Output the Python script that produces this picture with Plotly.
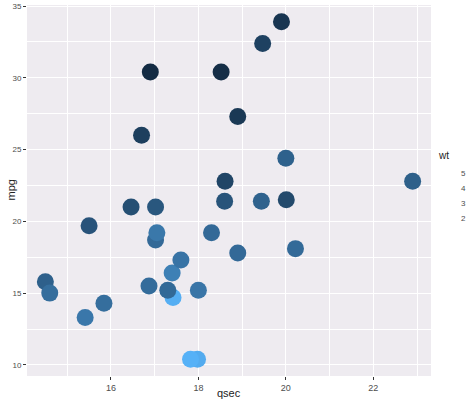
import plotly.graph_objects as go

# mtcars: quarter-mile time, miles per gallon, weight
qsec = [16.46, 17.02, 18.61, 19.44, 17.02, 20.22, 15.84, 20.00, 22.90, 18.30,
        18.90, 17.40, 17.60, 18.00, 17.98, 17.82, 17.42, 19.47, 18.52, 19.90,
        20.01, 16.87, 17.30, 15.41, 17.05, 18.90, 16.70, 16.90, 14.50, 15.50,
        14.60, 18.60]
mpg = [21.0, 21.0, 22.8, 21.4, 18.7, 18.1, 14.3, 24.4, 22.8, 19.2,
       17.8, 16.4, 17.3, 15.2, 10.4, 10.4, 14.7, 32.4, 30.4, 33.9,
       21.5, 15.5, 15.2, 13.3, 19.2, 27.3, 26.0, 30.4, 15.8, 19.7,
       15.0, 21.4]
wt = [2.620, 2.875, 2.320, 3.215, 3.440, 3.460, 3.570, 3.190, 3.150, 3.440,
      3.440, 4.070, 3.730, 3.780, 5.250, 5.424, 5.345, 2.200, 1.615, 1.835,
      2.465, 3.520, 3.435, 3.840, 3.845, 1.935, 2.140, 1.513, 3.170, 2.770,
      3.570, 2.780]

x_ticks = [16, 18, 20, 22]
y_ticks = [10, 15, 20, 25, 30, 35]
legend_vals = [5, 4, 3, 2]

grey = "#4D4D4D"
panel_bg = "#EEEBF0"

fig = go.Figure()
fig.add_trace(go.Scatter(
    x=qsec, y=mpg, mode="markers",
    marker=dict(size=17, color=wt,
                colorscale=[[0, "#132B43"], [0.5, "#336A98"], [1, "#56B1F7"]],
                showscale=False, line=dict(width=0)),
    hoverinfo="x+y",
))

fig.update_xaxes(range=[14.08, 23.32], tickvals=x_ticks, showline=False,
                 zeroline=False, gridcolor="white", gridwidth=1,
                 automargin=False,
                 minor=dict(dtick=1, tick0=15, gridcolor="white",
                            gridwidth=0.5, showgrid=True),
                 ticks="outside", ticklen=3, tickcolor="#333333",
                 tickfont=dict(size=9, color=grey))
fig.update_yaxes(range=[9.225, 35.075], tickvals=y_ticks, showline=False,
                 zeroline=False, gridcolor="white", gridwidth=1,
                 automargin=False,
                 minor=dict(dtick=2.5, tick0=10, gridcolor="white",
                            gridwidth=0.5, showgrid=True),
                 ticks="outside", ticklen=3, tickcolor="#333333",
                 tickfont=dict(size=8, color=grey))

# axis titles
fig.add_annotation(text="qsec", x=0.5, y=-0.046, xref="paper", yref="paper",
                   showarrow=False, font=dict(size=11, color="#222222"),
                   xanchor="center", yanchor="middle")
fig.add_annotation(text="mpg", x=-0.042, y=0.5, xref="paper", yref="paper",
                   showarrow=False, textangle=-90,
                   xanchor="center", yanchor="middle",
                   font=dict(size=11, color="#222222"))

# legend text (colour bar not drawn in the reference)
fig.add_annotation(text="wt", x=1.012, y=0.593, xref="paper", yref="paper",
                   showarrow=False, xanchor="left", yanchor="middle",
                   font=dict(size=10, color="#222222"))
for i, v in enumerate(legend_vals):
    fig.add_annotation(text=str(v), x=1.07, y=0.547 - i * 0.0404,
                       xref="paper", yref="paper", showarrow=False,
                       xanchor="left", yanchor="middle",
                       font=dict(size=8, color=grey))

fig.update_layout(
    width=474, height=401,
    margin=dict(l=27, r=43, t=5, b=25, autoexpand=False),
    plot_bgcolor=panel_bg, paper_bgcolor="white",
    showlegend=False,
    font=dict(family="Liberation Sans, Arial, sans-serif"),
)

# drop the page's default body margin so the figure sits at the window corner
fig.write_html("out.html", config={"displayModeBar": False},
               post_script="document.body.style.margin='0';"
                           "document.body.style.overflow='hidden';")
